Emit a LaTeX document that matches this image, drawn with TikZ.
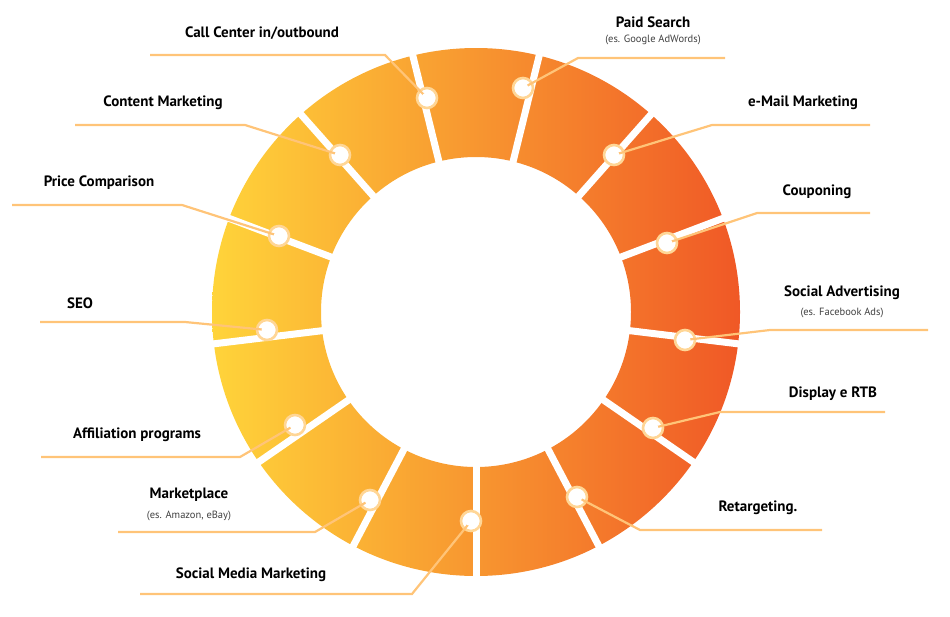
\documentclass[tikz,border=0pt]{standalone}
\usetikzlibrary{calc}
\usepackage{fontspec}
\setmainfont{PT Sans}
\begin{document}
\begin{tikzpicture}[x=1pt,y=-1pt,
  lead/.style={draw={rgb,255:red,255;green,196;blue,120}, line width=2.2pt},
  dot/.style={circle, fill=white, draw={rgb,255:red,255;green,214;blue,150}, line width=2.6pt, minimum size=20pt, inner sep=0pt},
  ttl/.style={font=\bfseries\fontsize{15}{17}\selectfont, inner sep=0pt},
  sub/.style={font=\fontsize{10.5}{12}\selectfont, text=black!75, inner sep=0pt}]
\useasboundingbox (0,0) rectangle (950,616);
\definecolor{cy}{RGB}{255,212,58}
\definecolor{co}{RGB}{240,88,38}
\coordinate (c) at (476,312);
% ring
\shade[left color=cy, right color=co, even odd rule]
  (c) circle[radius=264] (c) circle[radius=155];
% gaps
\foreach \k in {0,...,12}{
  \draw[white, line width=7pt] ($(c)+({90-\k*360/13}:150)$) -- ($(c)+({90-\k*360/13}:270)$);
}
% dots
\foreach \n/\p in {ps/{523,88}, em/{614,155}, cp/{667,243}, sa/{685,340}, dr/{653,428}, rt/{577,497}, sm/{471,521}, mp/{370,500}, af/{295,425}, seo/{267,330}, pc/{279,236}, cm/{340,155}, cc/{427,98}}{
  \node[dot] (d\n) at (\p) {};
}
% leader coordinates
\coordinate (ps1) at (578,58); \coordinate (ps2) at (725,58);
\coordinate (em1) at (712,125); \coordinate (em2) at (870,125);
\coordinate (cp1) at (757,213); \coordinate (cp2) at (870,213);
\coordinate (sa1) at (770,330); \coordinate (sa2) at (928,330);
\coordinate (dr1) at (720,412); \coordinate (dr2) at (885,412);
\coordinate (rt1) at (640,530); \coordinate (rt2) at (822,530);
\coordinate (sm1) at (412,594); \coordinate (sm2) at (140,594);
\coordinate (mp1) at (315,532); \coordinate (mp2) at (118,532);
\coordinate (af1) at (240,457); \coordinate (af2) at (41,457);
\coordinate (seo1) at (185,322); \coordinate (seo2) at (40,322);
\coordinate (pc1) at (182,205); \coordinate (pc2) at (12,205);
\coordinate (cm1) at (245,125); \coordinate (cm2) at (75,125);
\coordinate (cc1) at (385,55); \coordinate (cc2) at (150,55);
\foreach \n in {ps,em,cp,sa,dr,rt,sm,mp,af,seo,pc,cm,cc}{
  \draw[lead] (\n2) -- (\n1) -- (d\n.center);
}
\foreach \n in {ps,em,cp,sa,dr,rt,sm,mp,af,seo,pc,cm,cc}{
  \fill[white] (d\n.center) circle[radius=5.5];
}
% labels
\node[ttl] (tps) at (653,22) {Paid Search};
\node[sub] (sps) at (653,40) {(es. Google AdWords)};
\node[ttl,anchor=east] (tem) at (858,103) {e-Mail Marketing};
\node[ttl] (tcp) at (817,192) {Couponing};
\node[ttl] (tsa) at (842,293) {Social Advertising};
\node[sub] (ssa) at (842,313) {(es. Facebook Ads)};
\node[ttl] (tdr) at (833,394) {Display e RTB};
\node[ttl] (trt) at (758,508) {Retargeting.};
\node[ttl] (tsm) at (251,575) {Social Media Marketing};
\node[ttl] (tmp) at (189,495) {Marketplace};
\node[sub] (smp) at (189,516) {(es. Amazon, eBay)};
\node[ttl] (taf) at (137,435) {Affiliation programs};
\node[ttl] (tseo) at (80,303) {SEO};
\node[ttl] (tpc) at (99,183) {Price Comparison};
\node[ttl] (tcm) at (163,103) {Content Marketing};
\node[ttl] (tcc) at (262,33) {Call Center in/outbound};
\end{tikzpicture}
\end{document}
